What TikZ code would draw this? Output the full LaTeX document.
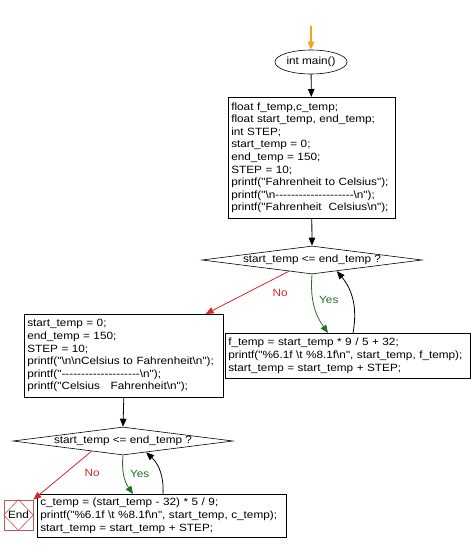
\documentclass[tikz,border=0pt]{standalone}
\usepackage{fontspec}
\setmainfont[FakeStretch=1.12,Ligatures=TeXOff]{Liberation Sans}
\usetikzlibrary{positioning,arrows.meta,shapes.geometric,calc}
\definecolor{startorange}{RGB}{245,165,20}
\definecolor{nored}{RGB}{215,40,40}
\definecolor{yesgreen}{RGB}{35,110,35}
\definecolor{endred}{RGB}{195,85,85}
\newcommand{\bsl}{\textbackslash}
\newcommand{\dashrow}{--------------------}

\begin{document}
\begin{tikzpicture}[
  x=1pt, y=-1pt, line width=0.6pt,
  every node/.style={font=\fontsize{10.5}{12.6}\selectfont},
  codebox/.style={draw, align=left, anchor=north west, inner xsep=3pt, inner ysep=2pt},
  cond/.style={draw, diamond, aspect=7.6, inner sep=0pt, minimum width=220pt, minimum height=28pt},
  term/.style={draw, ellipse, inner sep=1pt, minimum width=63pt, minimum height=24pt},
  endbox/.style={draw=endred, minimum width=29pt, minimum height=30pt, inner sep=0pt},
  lbl/.style={inner sep=1pt},
  arr/.style={-{Triangle[length=8pt,width=6.5pt]}, line width=0.8pt},
]
\useasboundingbox (0,0) rectangle (474,551);

% ---- main column ----
\coordinate (entry) at (311,26);
\node[term] (main) at (311,62) {int main()};

\node[codebox, text width=161pt, minimum height=121pt] (init) at (228,97)
  {float f\_temp,c\_temp;\\
   float start\_temp, end\_temp;\\
   int STEP;\\
   start\_temp = 0;\\
   end\_temp = 150;\\
   STEP = 10;\\
   printf("Fahrenheit to Celsius");\\
   printf("\bsl n\dashrow\bsl n");\\
   printf("Fahrenheit\ \ Celsius\bsl n");};

\node[cond] (cond1) at (312,260) {start\_temp <= end\_temp ?};

\node[codebox, text width=239pt, minimum height=45pt] (loopa) at (225,333)
  {f\_temp = start\_temp * 9 / 5 + 32;\\
   printf("\%6.1f \bsl t \%8.1f\bsl n", start\_temp, f\_temp);\\
   start\_temp = start\_temp + STEP;};

% ---- second half, left ----
\node[codebox, text width=193pt, minimum height=83pt] (reset) at (24,314)
  {start\_temp = 0;\\
   end\_temp = 150;\\
   STEP = 10;\\
   printf("\bsl n\bsl nCelsius to Fahrenheit\bsl n");\\
   printf("\dashrow\bsl n");\\
   printf("Celsius\ \ \ Fahrenheit\bsl n");};

\node[cond] (cond2) at (123,441) {start\_temp <= end\_temp ?};

\node[codebox, text width=243pt, minimum height=43pt] (loopb) at (37,494)
  {c\_temp = (start\_temp - 32) * 5 / 9;\\
   printf("\%6.1f \bsl t \%8.1f\bsl n", start\_temp, c\_temp);\\
   start\_temp = start\_temp + STEP;};

\node[endbox] (end) at (18.5,515) {End};
\draw[endred] (end.north) -- (end.east) -- (end.south) -- (end.west) -- cycle;

% ---- arrows ----
\draw[arr, startorange, line width=1.6pt] (entry) -- (main);
\draw[arr] (main) -- (init);
\draw[arr] (init.south) -- (cond1.north);
\draw[arr, nored] (cond1.206) -- node[lbl, nored, pos=0.5, right=24pt]{No}
  ([xshift=-18pt]reset.north east);
\draw[arr, yesgreen] (cond1.south) to[bend right=20]
  node[lbl, yesgreen, pos=0.4, right=5pt]{Yes} ([xshift=103pt]loopa.north west);
\draw[arr] ([xshift=128pt]loopa.north west) to[bend right=25] (cond1.-24);

\draw[arr] (reset.south) -- (cond2.north);
\draw[arr, nored] (cond2.198) -- node[lbl, nored, pos=0.45, right=18pt]{No} (end.north east);
\draw[arr, yesgreen] (cond2.south) to[bend right=20]
  node[lbl, yesgreen, pos=0.45, right=5pt]{Yes} ([xshift=96pt]loopb.north west);
\draw[arr] ([xshift=126pt]loopb.north west) to[bend right=25] (cond2.-26);

\end{tikzpicture}
\end{document}
